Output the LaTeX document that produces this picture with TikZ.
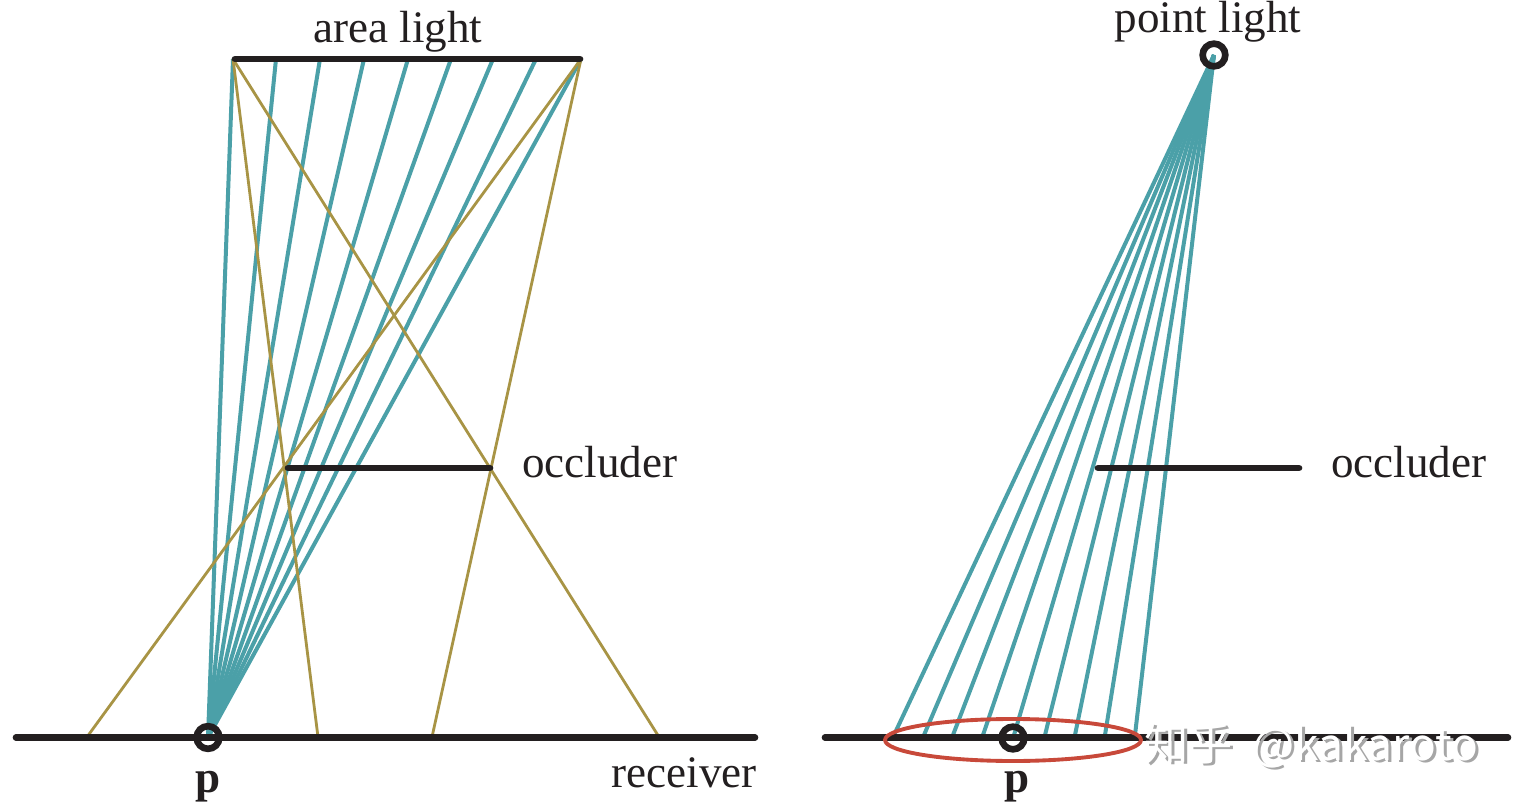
\documentclass[tikz,border=0pt]{standalone}
\usepackage{fontspec}
\setmainfont{Liberation Serif}
\newfontfamily\wmfont{Noto Sans CJK SC}
\definecolor{ink}{HTML}{231F20}
\definecolor{tealray}{HTML}{4BA0A8}
\definecolor{goldray}{HTML}{A89445}
\definecolor{redring}{HTML}{C8493A}
\tikzset{
  surface/.style={draw=ink,line width=5pt,line cap=round},
  tealline/.style={draw=tealray,line width=3pt},
  goldline/.style={draw=goldray,line width=2.1pt},
  ringmark/.style={circle,draw=ink,line width=5pt,minimum size=17pt,inner sep=0pt,fill=none},
  lab/.style={font=\fontsize{33.8pt}{36pt}\selectfont,text=ink,inner sep=0pt},
  wm/.style={font=\wmfont\fontsize{33.2pt}{36pt}\selectfont,inner sep=0pt,anchor=base west}
}
\begin{document}
\begin{tikzpicture}[x=0.75pt,y=-0.75pt]
\useasboundingbox (0,0) rectangle (1518,806);
\fill[white] (0,0) rectangle (1518,806);
% left panel
\coordinate (P) at (208,737.5);
\coordinate (LA) at (233,59);
\coordinate (LB) at (581,59);
\coordinate (LAs) at (235,59);
\coordinate (LBs) at (580,59);
\coordinate (RA) at (16,737.5);
\coordinate (RB) at (755,737.5);
\coordinate (OA) at (288,468);
\coordinate (OB) at (490,468);
\coordinate (G1) at (87,737);
\coordinate (G2) at (318,737);
\coordinate (G3) at (432,737);
\coordinate (G4) at (659,737);
\foreach \n/\x in {1/233,2/276,3/320,4/364,5/408,6/451,7/493,8/536,9/581}{
  \coordinate (T\n) at (\x,59);
  \draw[tealline] (P) -- (T\n);
}
\draw[goldline] (LA) -- (G4);
\draw[goldline] (LB) -- (G1);
\draw[goldline] (LA) -- (G2);
\draw[goldline] (LB) -- (G3);
\draw[surface] (LAs) -- (LBs);
\draw[surface] (OA) -- (OB);
\draw[surface] (RA) -- (RB);
\node[ringmark] (pl) at (P) {};
\node[lab] (arealight) at (398,32) {area light};
\node[lab,anchor=base west] (occl) at (522,477) {occluder};
\node[lab,anchor=base east] (recv) at (757,787) {receiver};
\node[lab,anchor=base] (pa) at (208,792) {\textbf{p}};
% right panel
\coordinate (S) at (1214,55);
\coordinate (P2) at (1013,738);
\coordinate (RC) at (825,737.5);
\coordinate (RD) at (1508,737.5);
\coordinate (OC) at (1098,468);
\coordinate (OD) at (1299,468);
\foreach \n/\x in {1/894,2/924,3/953,4/983,5/1014,6/1045,7/1075,8/1105,9/1135}{
  \coordinate (U\n) at (\x,735);
  \draw[tealline] (S) -- (U\n);
}
\draw[surface] (OC) -- (OD);
\draw[surface] (RC) -- (RD);
\node[ringmark] (pls) at (S) {};
\node[ringmark] (pr) at (P2) {};
\draw[draw=redring,line width=2.9pt] (1013,740) ellipse [x radius=128,y radius=21];
\node[lab] (pointlight) at (1208,21.5) {point light};
\node[lab,anchor=base west] (occr) at (1331,477) {occluder};
\node[lab,anchor=base] (pb) at (1017,792) {\textbf{p}};
% watermark
\node[wm,text=black!35] at (1147,762) {知乎\hspace{15pt}@kakaroto};
\node[wm,text=white] at (1144,760) {知乎\hspace{15pt}@kakaroto};
\end{tikzpicture}
\end{document}
